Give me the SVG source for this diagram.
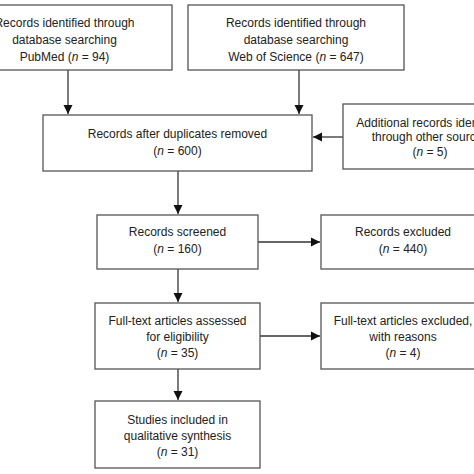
<svg xmlns="http://www.w3.org/2000/svg" width="474" height="474" viewBox="0 0 474 474">
<style>
.box{fill:#fff;stroke:#555;stroke-width:1.3}
text{font-family:"Liberation Sans",Arial,sans-serif;font-size:12px;fill:#222;text-anchor:middle}
.c{stroke:#333;stroke-width:1.3;fill:none}
</style>
<defs>
<marker id="ah" markerWidth="10" markerHeight="10" refX="9" refY="5" orient="auto" markerUnits="userSpaceOnUse">
<path d="M0,0.5 L9,5 L0,9.5 Z" fill="#111"/>
</marker>
</defs>
<rect width="474" height="474" fill="#fff"/>
<g id="connectors">
<path class="c" d="M68,70 V114" marker-end="url(#ah)"/>
<path class="c" d="M299,70 V114" marker-end="url(#ah)"/>
<path class="c" d="M343,137 H313" marker-end="url(#ah)"/>
<path class="c" d="M178,171 V214" marker-end="url(#ah)"/>
<path class="c" d="M258,242 H320" marker-end="url(#ah)"/>
<path class="c" d="M178,269 V302" marker-end="url(#ah)"/>
<path class="c" d="M260,336 H320" marker-end="url(#ah)"/>
<path class="c" d="M178,369 V400" marker-end="url(#ah)"/>
</g>
<g id="pubmed">
<rect class="box" x="-43" y="5" width="215" height="65"/>
<text x="64.5" y="27">Records identified through</text>
<text x="64.5" y="44">database searching</text>
<text x="64.5" y="61">PubMed (<tspan font-style="italic">n</tspan> = 94)</text>
</g>
<g id="wos">
<rect class="box" x="188" y="5" width="216" height="65"/>
<text x="296" y="27">Records identified through</text>
<text x="296" y="44">database searching</text>
<text x="296" y="61">Web of Science (<tspan font-style="italic">n</tspan> = 647)</text>
</g>
<g id="duplicates">
<rect class="box" x="43" y="115" width="269" height="56"/>
<text x="177.5" y="138">Records after duplicates removed</text>
<text x="177.5" y="155">(<tspan font-style="italic">n</tspan> = 600)</text>
</g>
<g id="additional">
<rect class="box" x="343" y="104" width="174" height="65"/>
<text x="430" y="127">Additional records identified</text>
<text x="430" y="141">through other sources</text>
<text x="430" y="156">(<tspan font-style="italic">n</tspan> = 5)</text>
</g>
<g id="screened">
<rect class="box" x="97" y="215" width="161" height="54"/>
<text x="177.5" y="236">Records screened</text>
<text x="177.5" y="253">(<tspan font-style="italic">n</tspan> = 160)</text>
</g>
<g id="excluded">
<rect class="box" x="321" y="215" width="164" height="54"/>
<text x="403" y="236">Records excluded</text>
<text x="403" y="253">(<tspan font-style="italic">n</tspan> = 440)</text>
</g>
<g id="fulltext">
<rect class="box" x="95" y="303" width="165" height="66"/>
<text x="177.5" y="325">Full-text articles assessed</text>
<text x="177.5" y="341">for eligibility</text>
<text x="177.5" y="357">(<tspan font-style="italic">n</tspan> = 35)</text>
</g>
<g id="fulltext-excluded">
<rect class="box" x="321" y="303" width="164" height="66"/>
<text x="403" y="325">Full-text articles excluded,</text>
<text x="403" y="341">with reasons</text>
<text x="403" y="357">(<tspan font-style="italic">n</tspan> = 4)</text>
</g>
<g id="included">
<rect class="box" x="95" y="401" width="165" height="67"/>
<text x="177.5" y="424">Studies included in</text>
<text x="177.5" y="440">qualitative synthesis</text>
<text x="177.5" y="456">(<tspan font-style="italic">n</tspan> = 31)</text>
</g>
</svg>
